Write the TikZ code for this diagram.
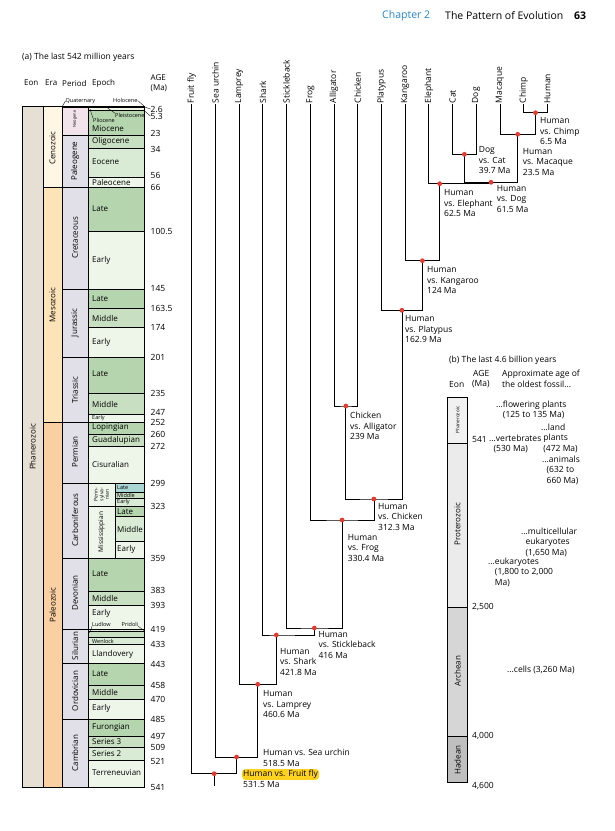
\documentclass[tikz,border=0pt]{standalone}
\usepackage{fontspec}
\setmainfont{Open Sans}
\usetikzlibrary{positioning}

\definecolor{epLate}{HTML}{B5D5AE}
\definecolor{epMid}{HTML}{C9DFC1}
\definecolor{epLt}{HTML}{D9EBD4}
\definecolor{epEarly}{HTML}{EEF6EA}
\definecolor{epCyan}{HTML}{A9D5D3}
\definecolor{perGray}{HTML}{E1DFE8}
\definecolor{perPink}{HTML}{F3E4EC}
\definecolor{eraCeno}{HTML}{FFF6E4}
\definecolor{eraMeso}{HTML}{FDE3B8}
\definecolor{eraPaleo}{HTML}{FACFA2}
\definecolor{eonPhan}{HTML}{E6DFD4}
\definecolor{dotRed}{HTML}{E8392D}
\definecolor{flyYellow}{HTML}{FFD21F}
\definecolor{chapBlue}{HTML}{2584C6}
\definecolor{bPhan}{HTML}{F1F1F1}
\definecolor{bProt}{HTML}{EBEBEB}
\definecolor{bArch}{HTML}{D6D6D6}
\definecolor{bHad}{HTML}{BFBFBF}

\newcommand{\txtsize}[2]{\fontsize{#1}{#2}\selectfont}

\tikzset{
  cell/.style={draw=black,line width=0.6pt},
  branch/.style={line width=0.8pt,black},
  lead/.style={line width=0.35pt,black},
  lbl/.style={font=\txtsize{8.5}{10.4},inner sep=0pt,align=left,anchor=north west},
  eplbl/.style={font=\txtsize{8}{9},inner sep=0pt,anchor=west},
  tinylbl/.style={font=\txtsize{5.5}{6},inner sep=0pt,anchor=west},
  vlbl/.style={font=\txtsize{8}{9},inner sep=0pt,rotate=90},
  agelbl/.style={font=\txtsize{8.5}{9},inner sep=0pt,anchor=west},
  taxon/.style={font=\txtsize{8.5}{9},inner sep=0.5pt,rotate=90,anchor=west},
  fossil/.style={font=\txtsize{8.5}{10.5},inner sep=0pt,anchor=north west,align=left},
  nodedot/.style={fill=dotRed},
}

\begin{document}
\begin{tikzpicture}[x=1pt,y=-1pt]

\useasboundingbox (0,0) rectangle (615,831);

% running head
\node[font=\txtsize{10.5}{12},text=chapBlue,inner sep=0pt,anchor=west] (chap) at (382,16) {Chapter 2};
\node[font=\txtsize{10.5}{12},inner sep=0pt,anchor=west] (ptitle) at (445,16) {The Pattern of Evolution};
\node[font=\txtsize{10.5}{12}\bfseries,inner sep=0pt,anchor=west] (pnum) at (574,16) {63};

% (a) time scale
\node[font=\txtsize{8.5}{9},inner sep=0pt,anchor=west] (titleA) at (22,57) {(a) The last 542 million years};
\node[eplbl] (hEon) at (24,83) {Eon};
\node[eplbl] (hEra) at (45,83) {Era};
\node[eplbl] (hPer) at (62,83) {Period};
\node[eplbl] (hEpo) at (92,83) {Epoch};
\node[eplbl] (hAge) at (150.5,77.5) {AGE};
\node[eplbl] (hMa) at (150.5,88) {(Ma)};

\filldraw[cell,fill=eonPhan] (22,106) rectangle (43,787);
\node[vlbl] (phan) at (32.5,447) {Phanerozoic};

\foreach \t/\b/\c in {106/187/eraCeno,187/422/eraMeso,422/787/eraPaleo}
  \filldraw[cell,fill=\c] (43,\t) rectangle (62,\b);
\node[vlbl] (ceno) at (52.5,148) {Cenozoic};
\node[vlbl] (meso) at (52.5,305) {Mesozoic};
\node[vlbl] (paleo) at (52.5,605) {Paleozoic};

\foreach \t/\b/\c in {106/107.5/perGray,107.5/135/perPink,135/187/perGray,187/289/perGray,
    289/357/perGray,357/422/perGray,422/483/perGray,483/558/perGray,558/629/perGray,
    629/663/perGray,663/719/perGray,719/787/perGray}
  \filldraw[cell,fill=\c] (62,\t) rectangle (88,\b);
\node[vlbl,font=\txtsize{4}{5}] (neog) at (75,119) {Neogene};
\foreach \y/\s [count=\i] in {161/Paleogene,238/Cretaceous,323/Jurassic,390/Triassic,
    452/Permian,520/Carboniferous,593/Devonian,646/Silurian,691/Ordovician,753/Cambrian}
  \node[vlbl] (per-\i) at (75,\y) {\s};

% epochs
\foreach \l/\t/\b/\c in {88/106/107.5/epCyan,88/107.5/110.5/epEarly,88/110.5/135/epLate,
    88/135/148/epMid,88/148/177/epLt,88/177/187/epEarly,
    88/187/231/epLate,88/231/289/epEarly,
    88/289/308/epLate,88/308/327/epMid,88/327/357/epEarly,
    88/357/393/epLate,88/393/414/epMid,88/414/422/epEarly,
    88/422/434/epLate,88/434/446/epMid,88/446/483/epEarly,
    88/483/506/epEarly,88/506/558/epEarly,
    115/483/492/epCyan,115/492/498/epMid,115/498/506/epLt,
    115/506/516/epLate,115/516/541/epLt,115/541/558/epEarly,
    88/558/591/epLate,88/591/605/epMid,88/605/629/epEarly,
    88/629/631.5/epLt,88/631.5/637/epMid,88/637/644/epLt,88/644/663/epEarly,
    88/663/685/epLate,88/685/699/epMid,88/699/719/epEarly,
    88/719/736/epLate,88/736/747/epMid,88/747/760/epLt,88/760/787/epEarly}
  \filldraw[cell,fill=\c] (\l,\t) rectangle (144,\b);

\foreach \x/\y/\s [count=\i] in {92/129/Miocene,92/141/Oligocene,92/162/Eocene,92/182.5/Paleocene,
    92/209/Late,92/260/Early,92/299/Late,92/318/Middle,92/342/Early,92/374/Late,92/404/Middle,
    92/428/Lopingian,92/440/Guadalupian,92/464/Cisuralian,
    117/512/Late,117/529/Middle,117/549/Early,
    92/574/Late,92/598/Middle,92/613/Early,92/654/Llandovery,
    92/674/Late,92/692/Middle,92/708/Early,
    92/728/Furongian,92/742/Series 3,92/753.5/Series 2,92/773/Terreneuvian}
  \node[eplbl] (ep-\i) at (\x,\y) {\s};

\foreach \x/\y/\s [count=\i] in {92/418.5/Early,117/487.5/Late,117/495/Middle,117/502/Early,92/641/Wenlock}
  \node[tinylbl] (sm-\i) at (\x,\y) {\s};
\node[vlbl,font=\txtsize{5}{5.6},align=center] (penn) at (101.5,494.5) {Penn-\\sylva-\\nian};
\node[vlbl,font=\txtsize{6.5}{7}] (miss) at (101.5,532) {Mississippian};

\node[tinylbl] (quat) at (65.5,101) {Quaternary};
\draw[lead] (quat.west) -- (62.5,106);
\node[tinylbl] (holo) at (113,100.5) {Holocene};
\draw[lead] (holo.east) -- (144,106);
\node[tinylbl] (pleis) at (115,115.5) {Pleistocene};
\draw[lead] (pleis.north west) -- (107,107.5);
\node[tinylbl] (plio) at (93,120.5) {Pliocene};
\draw[lead] (plio.north west) -- (90,109);
\node[tinylbl] (ludlow) at (92,624) {Ludlow};
\draw[lead] (ludlow.south west) -- (89.5,633);
\node[tinylbl] (pridoli) at (121.5,624) {Pridoli};
\draw[lead] (pridoli.south east) -- (144,630.5);

% ages
\node[agelbl] (age-a) at (150.5,109) {2.6};
\draw[lead] (age-a.west) -- (144,106.7);
\node[agelbl] (age-b) at (150.5,116) {5.3};
\draw[lead] (age-b.west) -- (144,110.5);
\foreach \y/\s [count=\i] in {133/23,149/34,175/56,187/66,231/100.5,288/145,308/163.5,327/174,
    357/201,393/235,412/247,422/252,434/260,446/272,483/299,506/323,558/359,590/383,605/393,
    629/419,644/433,664/443,685/458,699/470,719/485,736/497,747/509,761/521,787/541}
  \node[agelbl] (age-\i) at (150.5,\y) {\s};

% tree
\foreach \n/\s [count=\i from 0] in {fly/Fruit fly,urchin/Sea urchin,lamprey/Lamprey,shark/Shark,
    stickle/Stickleback,frog/Frog,alli/Alligator,chick/Chicken,platy/Platypus,kang/Kangaroo,
    eleph/Elephant,cat/Cat,dog/Dog,macaque/Macaque,chimp/Chimp,human/Human}
  \node[taxon] (\n) at ({191.7+23.71*\i},104) {\s};

\coordinate (hc) at (535.5,112.7);
\coordinate (hm) at (517.7,134.3);
\coordinate (dc) at (464.4,154.3);
\coordinate (hd) at (491,182.3);
\coordinate (he) at (439.7,183.7);
\coordinate (hk) at (422.4,260.7);
\coordinate (hp) at (401.9,310.3);
\coordinate (ca) at (345.85,406);
\coordinate (hch) at (373.9,499);
\coordinate (hf) at (342.1,520);
\coordinate (hs) at (314.35,628);
\coordinate (hsh) at (276.3,635);
\coordinate (hl) at (257.75,684.3);
\coordinate (hu) at (236.6,757);
\coordinate (hfl) at (214.15,773.7);
\coordinate (root) at (214.15,786);

\draw[branch] (chimp.west) |- (hc) -| (human.west);
\draw[branch] (macaque.west) |- (hm) -| (hc);
\draw[branch] (cat.west) |- (dc) -| (dog.west);
\draw[branch] (dc) |- (hd) -| (hm);
\draw[branch] (eleph.west) |- (he) -| (hd);
\draw[branch] (kang.west) |- (hk) -| (he);
\draw[branch] (platy.west) |- (hp) -| (hk);
\draw[branch] (alli.west) |- (ca) -| (chick.west);
\draw[branch] (ca) |- (hch) -| (hp);
\draw[branch] (frog.west) |- (hf) -| (hch);
\draw[branch] (stickle.west) |- (hs) -| (hf);
\draw[branch] (shark.west) |- (hsh) -| (hs);
\draw[branch] (lamprey.west) |- (hl) -| (hsh);
\draw[branch] (urchin.west) |- (hu) -| (hl);
\draw[branch] (fly.west) |- (hfl) -| (hu);
\draw[branch] (hfl) -- (root);

\foreach \c in {hc,hm,dc,hd,he,hk,hp,ca,hch,hf,hs,hsh,hl,hu,hfl}
  \fill[nodedot] (\c) circle[radius=2.4pt];

\node[lbl] (l-hc) at (540,117.5) {Human\\vs. Chimp\\6.5 Ma};
\node[lbl] (l-hm) at (522.7,148) {Human\\vs. Macaque\\23.5 Ma};
\node[lbl] (l-dc) at (478.7,146.5) {Dog\\vs. Cat\\39.7 Ma};
\node[lbl] (l-hd) at (496.7,185) {Human\\vs. Dog\\61.5 Ma};
\node[lbl] (l-he) at (444,189.5) {Human\\vs. Elephant\\62.5 Ma};
\node[lbl] (l-hk) at (427,266.5) {Human\\vs. Kangaroo\\124 Ma};
\node[lbl] (l-hp) at (405,315.5) {Human\\vs. Platypus\\162.9 Ma};
\node[lbl] (l-ca) at (350,412) {Chicken\\vs. Alligator\\239 Ma};
\node[lbl] (l-hch) at (378,503) {Human\\vs. Chicken\\312.3 Ma};
\node[lbl] (l-hf) at (347.7,534) {Human\\vs. Frog\\330.4 Ma};
\node[lbl] (l-hs) at (318.3,631) {Human\\vs. Stickleback\\416 Ma};
\node[lbl] (l-hsh) at (280,648) {Human\\vs. Shark\\421.8 Ma};
\node[lbl] (l-hl) at (263,690.5) {Human\\vs. Lamprey\\460.6 Ma};
\node[lbl] (l-hu) at (263,749) {Human vs. Sea urchin\\518.5 Ma};
\node[lbl,fill=flyYellow,rounded corners=3pt,inner sep=1pt] (l-hfl) at (242,769) {Human vs. Fruit fly};
\node[lbl] (l-hfl2) [below=1.2pt of l-hfl.south west,anchor=north west,xshift=1pt] {531.5 Ma};

% (b) eons
\node[font=\txtsize{8.5}{9},inner sep=0pt,anchor=west] (titleB) at (449,360) {(b) The last 4.6 billion years};
\node[agelbl] (bEon) at (449,384) {Eon};
\node[agelbl] (bAge) at (473,373.5) {AGE};
\node[agelbl] (bMa) at (472,384) {(Ma)};
\node[fossil] (bFos) at (502,370) {Approximate age of\\the oldest fossil...};

\foreach \t/\b/\c in {397/443/bPhan,443/607/bProt,607/736/bArch,736/782/bHad}
  \filldraw[cell,fill=\c] (447.5,\t) rectangle (467.5,\b);
\node[vlbl,font=\txtsize{4.7}{5}] (bphan) at (457.5,420) {Phanerozoic};
\node[vlbl] (bprot) at (457.5,524) {Proterozoic};
\node[vlbl] (barch) at (457.5,671) {Archean};
\node[vlbl] (bhad) at (457.5,760) {Hadean};

\foreach \y/\s [count=\i] in {439/541,607/{2,500},736/{4,000},786/{4,600}}
  \node[agelbl] (bage-\i) at (472,\y) {\s};

\node[fossil] (fFlow) at (496,400.5) {...flowering plants\\\phantom{...}(125 to 135 Ma)};
\node[fossil] (fVert) at (489,434.5) {...vertebrates\\\phantom{..}(530 Ma)};
\node[fossil] (fLand) at (541,423.5) {...land\\\phantom{.}plants\\\phantom{.}(472 Ma)};
\node[fossil] (fAnim) at (542,455.5) {...animals\\\phantom{..}(632 to\\\phantom{..}660 Ma)};
\node[fossil] (fMulti) at (521,527.5) {...multicellular\\\phantom{..}eukaryotes\\\phantom{..}(1,650 Ma)};
\node[fossil] (fEuk) at (488,557.5) {...eukaryotes\\\phantom{...}(1,800 to 2,000\\\phantom{...}Ma)};
\node[fossil,anchor=west] (fCell) at (507,670) {...cells (3,260 Ma)};

\end{tikzpicture}
\end{document}
